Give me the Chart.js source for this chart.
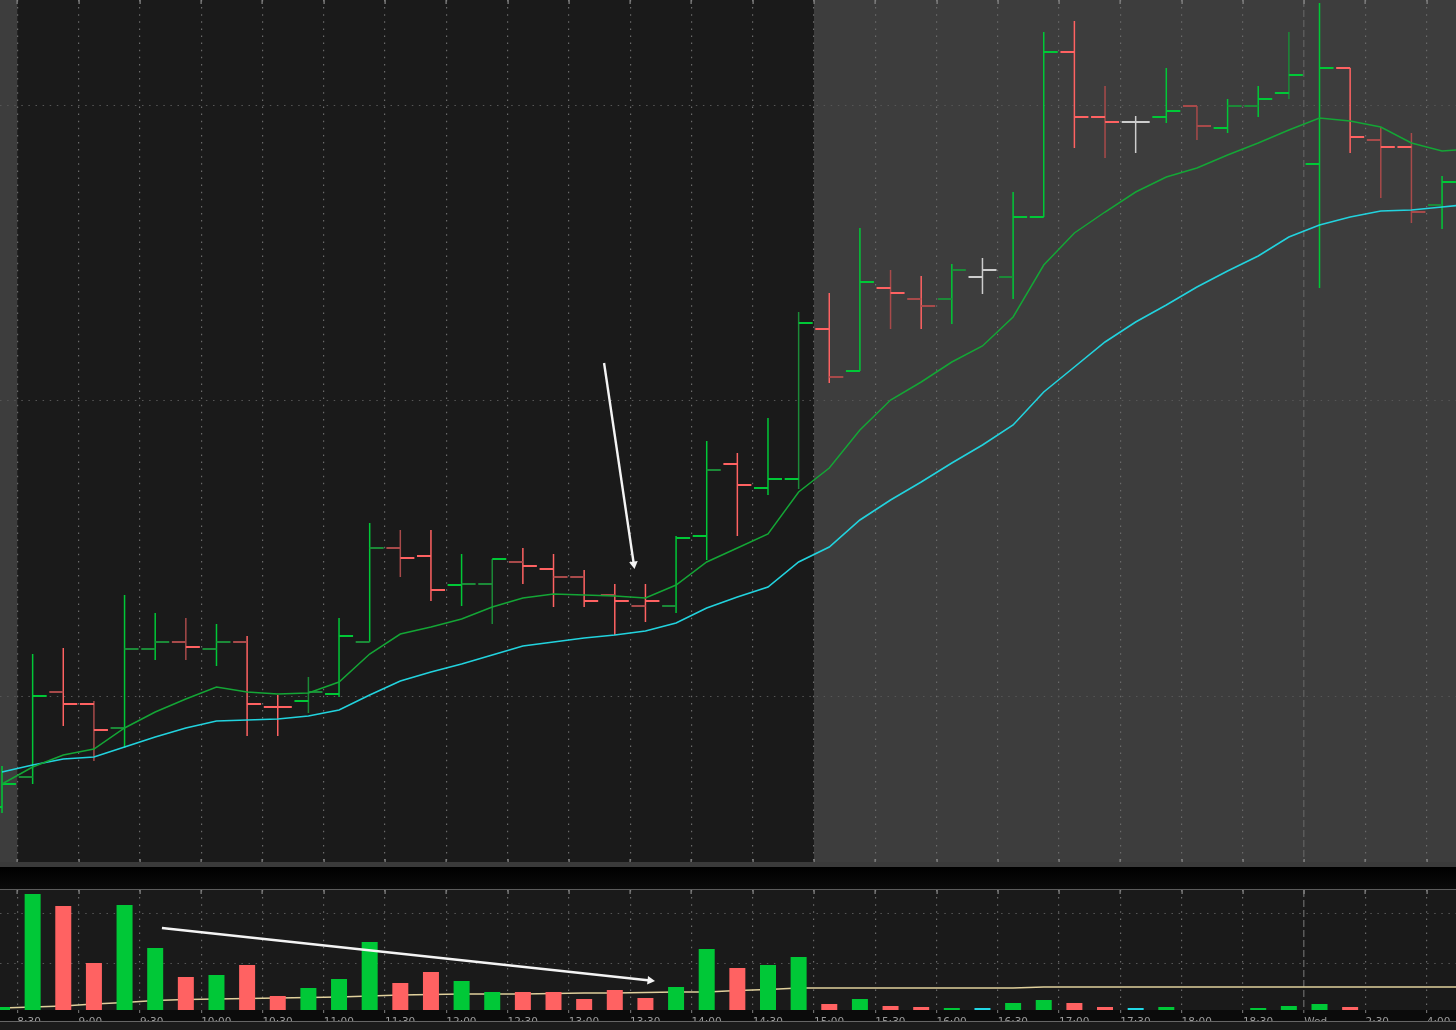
<!DOCTYPE html>
<html>
<head>
<meta charset="utf-8">
<title>Price and volume</title>
<script src="https://cdn.jsdelivr.net/npm/chart.js@4"></script>
<style>
html,body{margin:0;padding:0;width:1456px;height:1030px;overflow:hidden;background:#1b1b1b}
canvas{position:absolute;left:0;display:block}
.band{position:absolute;left:0;width:1456px}
</style>
</head>
<body>
<div class="band" style="top:862px;height:5px;background:#3a3a3a"></div>
<div class="band" style="top:867px;height:22px;background:linear-gradient(#000,#0b0b0b)"></div>
<div class="band" style="top:889px;height:2px;background:#5c5c5c"></div>
<div class="band" style="top:1010px;height:11px;background:#0b0b0b"></div>
<div class="band" style="top:1021px;height:1px;background:#666"></div>
<canvas id="priceChart" width="1456" height="862" style="top:0"></canvas>
<canvas id="volumeChart" width="1456" height="131" style="top:890px"></canvas>
<script>
const tickLabels = ["8:30","9:00","9:30","10:00","10:30","11:00","11:30","12:00","12:30","13:00","13:30","14:00","14:30","15:00","15:30","16:00","16:30","17:00","17:30","18:00","18:30","Wed","2:30","4:00"];
const barTone = ["u","u","d","d","u","u","d","u","d","d","u","u","u","d","d","u","u","d","d","d","d","d","u","u","d","u","u","d","u","d","d","u","n","u","u","d","d","n","u","d","u","u","u","u","d","d","d","u"];
const highs  = [9.4,20.6,21.2,15.9,26.5,24.7,24.2,23.6,22.4,16.5,18.3,24.2,33.7,33,33,30.6,30.1,31.2,30.6,29,27.6,27.6,32.4,41.9,40.7,44.2,54.8,56.7,63.2,59,58.4,59.6,60.2,66.8,82.8,83.9,77.4,74.4,79.2,75.4,76.1,77.4,82.8,85.7,79.2,73.3,72.7,68.4];
const lows   = [4.7,7.6,13.4,9.9,11.2,20,20,19.4,12.4,12.4,14.7,16.3,21.8,28.3,25.9,25.4,23.6,27.6,25.3,25.3,22.5,23.8,24.7,30,32.4,36.5,37.1,47.7,48.9,53.1,53.1,53.6,56.6,56.1,64.3,71.2,70.2,70.7,73.7,72,72.7,74.3,76.1,57.2,70.7,66.2,63.7,63.1];
const opens  = [5.3,8.3,16.8,15.6,13.2,21.1,21.8,21.1,21.8,15.3,15.9,16.6,21.8,31.2,30.4,27.5,27.6,29.8,29.1,28.3,26.5,25.4,25.4,32.4,39.6,37.2,38.1,53.1,48.9,57.2,56.1,56.1,58.3,58.3,64.3,80.8,74.3,73.8,74.3,75.4,73.2,75.4,76.7,69.6,79.2,72,71.3,65.5];
const closes = [7.6,16.4,15.6,13,21.1,21.8,21.3,21.8,15.6,15.3,16.8,22.4,31.2,30.2,27,27.6,30.1,29.4,28.3,25.9,25.9,25.9,32.2,39,37.5,38.1,53.7,48.3,57.8,56.7,55.4,59,59,64.3,80.8,74.3,73.8,73.8,74.9,73.4,75.4,76.1,78.5,79.2,72.3,71.3,64.8,67.8];
const emaFast = [7.6,9.3,10.5,11.1,13.2,14.8,16.1,17.3,16.8,16.6,16.7,17.8,20.6,22.6,23.3,24.1,25.3,26.2,26.6,26.5,26.4,26.2,27.5,29.8,31.2,32.6,36.8,39.2,43,46,47.8,49.8,51.4,54.3,59.5,62.7,64.8,66.8,68.3,69.2,70.5,71.7,73,74.2,73.9,73.3,71.7,70.9,71.1];
const emaSlow = [8.8,9.5,10.1,10.3,11.3,12.3,13.2,13.9,14,14.1,14.4,15,16.5,17.9,18.8,19.6,20.5,21.4,21.8,22.2,22.5,22.9,23.7,25.2,26.3,27.3,29.8,31.3,34,36,37.8,39.7,41.5,43.5,46.8,49.3,51.8,53.8,55.5,57.3,58.9,60.4,62.3,63.5,64.3,64.9,65,65.3,65.6];
const volumes = [3,116,104,47,105,62,33,35,45,14,22,31,68,27,38,29,18,18,18,11,20,12,23,61,42,45,53,6,11,4,3,2,2,7,10,7,3,2,3,0,0,2,4,6,3,0,0,0];
const volumeAvg = [2,3,4,6,7.5,9.5,10.5,11,11.5,12,12.5,13,14,15,15.5,16,16,16,16.5,17,17,17.5,18,18,19.5,20.5,22,22,22,22,22,22,22,22,23,23,23,23,23,23,23,23,23,23,23,23,23,23,23];
const priceGrid = [16.4,46,75.4];
const volumeGrid = [47,97];
const priceArrowX = [19.65,20.62], priceArrowY = [49.7,29.6];
const volumeArrowX = [5.22,21.15], volumeArrowY = [82,29.5];
const sessionStart = 0.5, sessionEnd = 26.5;

/* Styling */
const X_MIN = -0.0653, X_MAX = 47.455;
const dimWick = new Set([3,6,10,13,16,26,29,36,39,42,45,46]);
const dimOpen = new Set([1,2,4,5,6,7,8,12,13,16,17,19,20,21,22,30,31,33,39,41,45,47]);
const dimClose = new Set([4,5,7,10,12,15,18,23,27,30,31,39,40,46]);
const palette = {u:"#00c837",d:"#ff6262",n:"#cdcdcd"};
const paletteDim = {u:"#1c8a38",d:"#a84a4a",n:"#8a8a8a"};
const volumePalette = {u:"#00c837",d:"#ff6262",n:"#22d8e6"};
const tickCache = {};
function tickImage(color,side){
  const key = color+side;
  if(tickCache[key]) return tickCache[key];
  const c = document.createElement("canvas"); c.width = 30; c.height = 2;
  const g = c.getContext("2d"); g.fillStyle = color;
  g.fillRect(side==="left"?1:15,0,14,2);
  return tickCache[key]=c;
}
const tickValues = tickLabels.map((_,k)=>sessionStart+2*k);
const ruled = (scale,values)=>{scale.ticks = values.map(v=>({value:v}));};
const wedTick = sessionStart+2*tickLabels.indexOf("Wed");

const sessionBg = {
  id:"sessionBg",
  beforeDraw(ch){
    const {ctx,chartArea:a,scales:{x}} = ch;
    ctx.save();
    if(ch.canvas.id==="priceChart"){
      ctx.fillStyle="#3d3d3d"; ctx.fillRect(a.left,a.top,a.width,a.height);
      const l=x.getPixelForValue(sessionStart), r=x.getPixelForValue(sessionEnd);
      ctx.fillStyle="#1a1a1a"; ctx.fillRect(l,a.top,r-l,a.height);
    } else {
      ctx.fillStyle="#1a1a1a"; ctx.fillRect(a.left,a.top,a.width,a.height);
    }
    ctx.restore();
  },
  afterDraw(ch){
    const {ctx,chartArea:a,scales:{x}} = ch;
    ctx.save(); ctx.fillStyle="#8a8a8a";
    tickValues.forEach(v=>{
      const p=x.getPixelForValue(v);
      ctx.fillRect(Math.round(p)-0.5,a.top,1.2,4);
      if(ch.canvas.id==="priceChart") ctx.fillRect(Math.round(p)-0.5,a.bottom-3,1.2,3);
    });
    ctx.restore();
  }
};
const xBase = {
  type:"linear",min:X_MIN,max:X_MAX,offset:false,
  afterBuildTicks:s=>ruled(s,tickValues),
  grid:{offset:false,color:c=>c.tick&&c.tick.value===wedTick?"#5a5a5a":"#6a6a6a",lineWidth:c=>c.tick&&c.tick.value===wedTick?1.5:1.2,drawTicks:false},
  border:{display:false,dash:c=>c.tick&&c.tick.value===wedTick?[7,3]:[1.5,5.6]},
};
Chart.defaults.animation=false;
Chart.defaults.font.family="'DejaVu Sans'";

new Chart(document.getElementById("priceChart"),{
  type:"bar",
  plugins:[sessionBg],
  data:{datasets:[
    {type:"line",label:"Fast average",data:emaFast.map((y,i)=>({x:i,y})),borderColor:"#14a636",borderWidth:1.5,pointRadius:0,tension:0,order:1},
    {type:"line",label:"Slow average",data:emaSlow.map((y,i)=>({x:i,y})),borderColor:"#22d3de",borderWidth:1.6,pointRadius:0,tension:0,order:1},
    {type:"scatter",label:"Arrow",data:priceArrowX.map((x,i)=>({x,y:priceArrowY[i]})),showLine:true,borderColor:"#f4f4f4",backgroundColor:"#f4f4f4",borderWidth:2.4,
      pointStyle:"triangle",pointRadius:[0,5],pointRotation:171.5,pointBorderWidth:0,order:0},
    {type:"scatter",label:"Open",data:opens.map((y,i)=>({x:i,y})),
      pointStyle:c=>tickImage((dimOpen.has(c.dataIndex)?paletteDim:palette)[barTone[c.dataIndex]],"left"),pointRadius:7,order:2},
    {type:"scatter",label:"Close",data:closes.map((y,i)=>({x:i,y})),
      pointStyle:c=>tickImage((dimClose.has(c.dataIndex)?paletteDim:palette)[barTone[c.dataIndex]],"right"),pointRadius:7,order:2},
    {type:"bar",label:"Range",data:highs.map((h,i)=>({x:i,y:[lows[i],h]})),barThickness:1.5,inflateAmount:0,borderWidth:0,
      backgroundColor:c=>(dimWick.has(c.dataIndex)?paletteDim:palette)[barTone[c.dataIndex]],order:3}
  ]},
  options:{
    responsive:false,devicePixelRatio:1,layout:{padding:0,autoPadding:false},
    plugins:{legend:{display:false},tooltip:{enabled:false}},
    events:[],
    scales:{
      x:{...xBase,ticks:{display:false},afterFit:s=>{s.height=0;}},
      y:{type:"linear",min:-0.2,max:86,afterBuildTicks:s=>ruled(s,priceGrid),
        ticks:{display:false},afterFit:s=>{s.width=0;},
        grid:{color:"#565656",lineWidth:1,drawTicks:false},border:{display:false,dash:[1.5,5.6]}}
    }
  }
});

new Chart(document.getElementById("volumeChart"),{
  type:"bar",
  plugins:[sessionBg],
  data:{datasets:[
    {type:"scatter",label:"Arrow",data:volumeArrowX.map((x,i)=>({x,y:volumeArrowY[i]})),showLine:true,borderColor:"#f4f4f4",backgroundColor:"#f4f4f4",borderWidth:2.4,
      pointStyle:"triangle",pointRadius:[0,5],pointRotation:96.1,pointBorderWidth:0,order:0},
    {type:"bar",label:"Volume",data:volumes.map((y,i)=>({x:i,y})),barThickness:16,inflateAmount:0,borderWidth:0,
      backgroundColor:c=>volumePalette[barTone[c.dataIndex]],order:1},
    {type:"line",label:"Average volume",data:volumeAvg.map((y,i)=>({x:i,y})),borderColor:"#e0d09c",borderWidth:1.5,pointRadius:0,tension:0,order:2}
  ]},
  options:{
    responsive:false,devicePixelRatio:1,layout:{padding:0,autoPadding:false},
    plugins:{legend:{display:false},tooltip:{enabled:false}},
    events:[],
    scales:{
      x:{...xBase,
        grid:{...xBase.grid,drawTicks:true,tickLength:3,tickColor:"#6a6a6a",tickWidth:1.2},
        ticks:{align:"start",padding:3,autoSkip:false,maxRotation:0,color:"#9a9a9a",font:{size:10.5},
          callback:(v)=>tickLabels[tickValues.indexOf(v)]},
        afterFit:s=>{s.height=11;}},
      y:{type:"linear",min:0,max:120,afterBuildTicks:s=>ruled(s,volumeGrid),
        ticks:{display:false},afterFit:s=>{s.width=0;},
        grid:{color:"#565656",lineWidth:1,drawTicks:false},border:{display:false,dash:[1.5,5.6]}}
    }
  }
});
</script>
</body>
</html>
